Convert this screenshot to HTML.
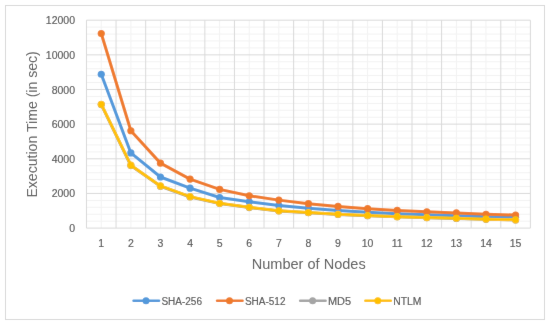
<!DOCTYPE html><html><head><meta charset="utf-8"><style>html,body{margin:0;padding:0;background:#fff;}svg{display:block;}text{font-family:"Liberation Sans",Arial,sans-serif;fill:#505050;stroke:#505050;stroke-width:0.15px;}text.t{fill:#595959;stroke:none;}</style></head><body>
<svg width="550" height="325" viewBox="0 0 550 325">
<defs><filter id="soft" x="-2%" y="-2%" width="104%" height="104%"><feConvolveMatrix order="3" kernelMatrix="0.01 0.04 0.01 0.04 0.8 0.04 0.01 0.04 0.01" divisor="1" edgeMode="none" preserveAlpha="false"/></filter></defs>
<rect x="0" y="0" width="550" height="325" fill="#fff"/>
<g filter="url(#soft)">
<rect x="5.5" y="5.5" width="539" height="314" fill="#fff" stroke="#D9D9D9" stroke-width="1"/>
<path d="M86.47 221.17H530.38M86.47 214.24H530.38M86.47 207.31H530.38M86.47 200.38H530.38M86.47 186.52H530.38M86.47 179.59H530.38M86.47 172.66H530.38M86.47 165.73H530.38M86.47 151.87H530.38M86.47 144.94H530.38M86.47 138.01H530.38M86.47 131.08H530.38M86.47 117.22H530.38M86.47 110.29H530.38M86.47 103.36H530.38M86.47 96.43H530.38M86.47 82.57H530.38M86.47 75.64H530.38M86.47 68.71H530.38M86.47 61.78H530.38M86.47 47.92H530.38M86.47 40.99H530.38M86.47 34.06H530.38M86.47 27.13H530.38M101.27 20.20V228.10M130.86 20.20V228.10M160.45 20.20V228.10M190.05 20.20V228.10M219.64 20.20V228.10M249.24 20.20V228.10M278.83 20.20V228.10M308.42 20.20V228.10M338.02 20.20V228.10M367.61 20.20V228.10M397.21 20.20V228.10M426.80 20.20V228.10M456.39 20.20V228.10M485.99 20.20V228.10M515.58 20.20V228.10" stroke="#F2F2F2" stroke-width="1" fill="none"/>
<path d="M86.47 228.10H530.38M86.47 193.45H530.38M86.47 158.80H530.38M86.47 124.15H530.38M86.47 89.50H530.38M86.47 54.85H530.38M86.47 20.20H530.38M86.47 20.20V228.10M116.06 20.20V228.10M145.66 20.20V228.10M175.25 20.20V228.10M204.85 20.20V228.10M234.44 20.20V228.10M264.03 20.20V228.10M293.63 20.20V228.10M323.22 20.20V228.10M352.82 20.20V228.10M382.41 20.20V228.10M412.00 20.20V228.10M441.60 20.20V228.10M471.19 20.20V228.10M500.79 20.20V228.10M530.38 20.20V228.10" stroke="#D9D9D9" stroke-width="1" fill="none"/>
<text x="75" y="232.10" font-size="10.5" text-anchor="end">0</text>
<text x="75" y="197.45" font-size="10.5" text-anchor="end">2000</text>
<text x="75" y="162.80" font-size="10.5" text-anchor="end">4000</text>
<text x="75" y="128.15" font-size="10.5" text-anchor="end">6000</text>
<text x="75" y="93.50" font-size="10.5" text-anchor="end">8000</text>
<text x="75" y="58.85" font-size="10.5" text-anchor="end">10000</text>
<text x="75" y="24.20" font-size="10.5" text-anchor="end">12000</text>
<text x="101.27" y="247.2" font-size="10.5" text-anchor="middle">1</text>
<text x="130.86" y="247.2" font-size="10.5" text-anchor="middle">2</text>
<text x="160.45" y="247.2" font-size="10.5" text-anchor="middle">3</text>
<text x="190.05" y="247.2" font-size="10.5" text-anchor="middle">4</text>
<text x="219.64" y="247.2" font-size="10.5" text-anchor="middle">5</text>
<text x="249.24" y="247.2" font-size="10.5" text-anchor="middle">6</text>
<text x="278.83" y="247.2" font-size="10.5" text-anchor="middle">7</text>
<text x="308.42" y="247.2" font-size="10.5" text-anchor="middle">8</text>
<text x="338.02" y="247.2" font-size="10.5" text-anchor="middle">9</text>
<text x="367.61" y="247.2" font-size="10.5" text-anchor="middle">10</text>
<text x="397.21" y="247.2" font-size="10.5" text-anchor="middle">11</text>
<text x="426.80" y="247.2" font-size="10.5" text-anchor="middle">12</text>
<text x="456.39" y="247.2" font-size="10.5" text-anchor="middle">13</text>
<text x="485.99" y="247.2" font-size="10.5" text-anchor="middle">14</text>
<text x="515.58" y="247.2" font-size="10.5" text-anchor="middle">15</text>
<text class="t" x="308.7" y="268.8" font-size="14.3" text-anchor="middle" textLength="114" lengthAdjust="spacingAndGlyphs">Number of Nodes</text>
<text class="t" transform="translate(36.6 124.4) rotate(-90)" x="0" y="0" font-size="14" text-anchor="middle" textLength="146.4" lengthAdjust="spacingAndGlyphs">Execution Time (in sec)</text>
<polyline points="101.27,74.25 130.86,152.91 160.45,176.99 190.05,188.17 219.64,197.52 249.24,201.85 278.83,205.58 308.42,208.26 338.02,210.43 367.61,212.25 397.21,213.81 426.80,214.76 456.39,215.80 485.99,216.67 515.58,217.36" fill="none" stroke="#5399DB" stroke-width="3" stroke-linejoin="round" stroke-linecap="round"/>
<circle cx="101.27" cy="74.25" r="3.6" fill="#5399DB"/>
<circle cx="130.86" cy="152.91" r="3.6" fill="#5399DB"/>
<circle cx="160.45" cy="176.99" r="3.6" fill="#5399DB"/>
<circle cx="190.05" cy="188.17" r="3.6" fill="#5399DB"/>
<circle cx="219.64" cy="197.52" r="3.6" fill="#5399DB"/>
<circle cx="249.24" cy="201.85" r="3.6" fill="#5399DB"/>
<circle cx="278.83" cy="205.58" r="3.6" fill="#5399DB"/>
<circle cx="308.42" cy="208.26" r="3.6" fill="#5399DB"/>
<circle cx="338.02" cy="210.43" r="3.6" fill="#5399DB"/>
<circle cx="367.61" cy="212.25" r="3.6" fill="#5399DB"/>
<circle cx="397.21" cy="213.81" r="3.6" fill="#5399DB"/>
<circle cx="426.80" cy="214.76" r="3.6" fill="#5399DB"/>
<circle cx="456.39" cy="215.80" r="3.6" fill="#5399DB"/>
<circle cx="485.99" cy="216.67" r="3.6" fill="#5399DB"/>
<circle cx="515.58" cy="217.36" r="3.6" fill="#5399DB"/>
<polyline points="101.27,33.54 130.86,130.73 160.45,163.13 190.05,179.07 219.64,189.38 249.24,195.79 278.83,200.12 308.42,203.67 338.02,206.44 367.61,208.70 397.21,210.43 426.80,211.81 456.39,212.94 485.99,214.24 515.58,215.11" fill="none" stroke="#EF7A2A" stroke-width="3" stroke-linejoin="round" stroke-linecap="round"/>
<circle cx="101.27" cy="33.54" r="3.6" fill="#EF7A2A"/>
<circle cx="130.86" cy="130.73" r="3.6" fill="#EF7A2A"/>
<circle cx="160.45" cy="163.13" r="3.6" fill="#EF7A2A"/>
<circle cx="190.05" cy="179.07" r="3.6" fill="#EF7A2A"/>
<circle cx="219.64" cy="189.38" r="3.6" fill="#EF7A2A"/>
<circle cx="249.24" cy="195.79" r="3.6" fill="#EF7A2A"/>
<circle cx="278.83" cy="200.12" r="3.6" fill="#EF7A2A"/>
<circle cx="308.42" cy="203.67" r="3.6" fill="#EF7A2A"/>
<circle cx="338.02" cy="206.44" r="3.6" fill="#EF7A2A"/>
<circle cx="367.61" cy="208.70" r="3.6" fill="#EF7A2A"/>
<circle cx="397.21" cy="210.43" r="3.6" fill="#EF7A2A"/>
<circle cx="426.80" cy="211.81" r="3.6" fill="#EF7A2A"/>
<circle cx="456.39" cy="212.94" r="3.6" fill="#EF7A2A"/>
<circle cx="485.99" cy="214.24" r="3.6" fill="#EF7A2A"/>
<circle cx="515.58" cy="215.11" r="3.6" fill="#EF7A2A"/>
<polyline points="101.27,104.57 130.86,165.56 160.45,186.26 190.05,197.00 219.64,203.59 249.24,207.57 278.83,210.95 308.42,212.77 338.02,214.41 367.61,215.71 397.21,216.84 426.80,217.70 456.39,218.48 485.99,219.35 515.58,219.96" fill="none" stroke="#A5A5A5" stroke-width="3" stroke-linejoin="round" stroke-linecap="round"/>
<circle cx="101.27" cy="104.57" r="3.6" fill="#A5A5A5"/>
<circle cx="130.86" cy="165.56" r="3.6" fill="#A5A5A5"/>
<circle cx="160.45" cy="186.26" r="3.6" fill="#A5A5A5"/>
<circle cx="190.05" cy="197.00" r="3.6" fill="#A5A5A5"/>
<circle cx="219.64" cy="203.59" r="3.6" fill="#A5A5A5"/>
<circle cx="249.24" cy="207.57" r="3.6" fill="#A5A5A5"/>
<circle cx="278.83" cy="210.95" r="3.6" fill="#A5A5A5"/>
<circle cx="308.42" cy="212.77" r="3.6" fill="#A5A5A5"/>
<circle cx="338.02" cy="214.41" r="3.6" fill="#A5A5A5"/>
<circle cx="367.61" cy="215.71" r="3.6" fill="#A5A5A5"/>
<circle cx="397.21" cy="216.84" r="3.6" fill="#A5A5A5"/>
<circle cx="426.80" cy="217.70" r="3.6" fill="#A5A5A5"/>
<circle cx="456.39" cy="218.48" r="3.6" fill="#A5A5A5"/>
<circle cx="485.99" cy="219.35" r="3.6" fill="#A5A5A5"/>
<circle cx="515.58" cy="219.96" r="3.6" fill="#A5A5A5"/>
<polyline points="101.27,104.23 130.86,165.21 160.45,185.91 190.05,196.66 219.64,203.33 249.24,207.31 278.83,210.78 308.42,212.59 338.02,214.24 367.61,215.54 397.21,216.67 426.80,217.53 456.39,218.31 485.99,219.18 515.58,219.78" fill="none" stroke="#FFC000" stroke-width="3" stroke-linejoin="round" stroke-linecap="round"/>
<circle cx="101.27" cy="104.23" r="3.6" fill="#FFC000"/>
<circle cx="130.86" cy="165.21" r="3.6" fill="#FFC000"/>
<circle cx="160.45" cy="185.91" r="3.6" fill="#FFC000"/>
<circle cx="190.05" cy="196.66" r="3.6" fill="#FFC000"/>
<circle cx="219.64" cy="203.33" r="3.6" fill="#FFC000"/>
<circle cx="249.24" cy="207.31" r="3.6" fill="#FFC000"/>
<circle cx="278.83" cy="210.78" r="3.6" fill="#FFC000"/>
<circle cx="308.42" cy="212.59" r="3.6" fill="#FFC000"/>
<circle cx="338.02" cy="214.24" r="3.6" fill="#FFC000"/>
<circle cx="367.61" cy="215.54" r="3.6" fill="#FFC000"/>
<circle cx="397.21" cy="216.67" r="3.6" fill="#FFC000"/>
<circle cx="426.80" cy="217.53" r="3.6" fill="#FFC000"/>
<circle cx="456.39" cy="218.31" r="3.6" fill="#FFC000"/>
<circle cx="485.99" cy="219.18" r="3.6" fill="#FFC000"/>
<circle cx="515.58" cy="219.78" r="3.6" fill="#FFC000"/>
<path d="M133.6 300.8H159.0" stroke="#5399DB" stroke-width="2.6" stroke-linecap="round"/>
<circle cx="146.0" cy="300.8" r="3.5" fill="#5399DB"/>
<text x="161.4" y="305.2" font-size="10">SHA-256</text>
<path d="M217.1 300.8H242.5" stroke="#EF7A2A" stroke-width="2.6" stroke-linecap="round"/>
<circle cx="229.5" cy="300.8" r="3.5" fill="#EF7A2A"/>
<text x="244.9" y="305.2" font-size="10">SHA-512</text>
<path d="M300.2 300.8H325.6" stroke="#A5A5A5" stroke-width="2.6" stroke-linecap="round"/>
<circle cx="312.6" cy="300.8" r="3.5" fill="#A5A5A5"/>
<text x="328.0" y="305.2" font-size="10" textLength="23.1" lengthAdjust="spacingAndGlyphs">MD5</text>
<path d="M365.4 300.8H390.8" stroke="#FFC000" stroke-width="2.6" stroke-linecap="round"/>
<circle cx="377.8" cy="300.8" r="3.5" fill="#FFC000"/>
<text x="393.2" y="305.2" font-size="10" textLength="28.2" lengthAdjust="spacingAndGlyphs">NTLM</text>
</g></svg></body></html>
